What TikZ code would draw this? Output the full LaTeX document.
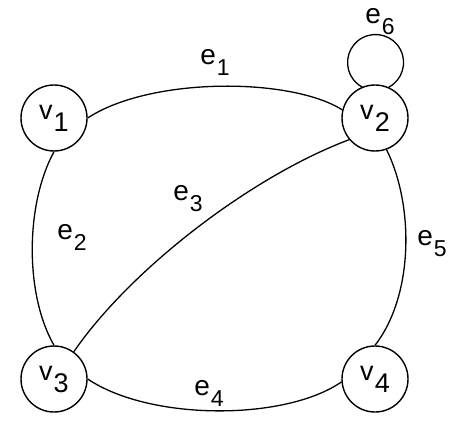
\documentclass[tikz,border=0pt]{standalone}
\usepackage{fontspec}
\setmainfont{Liberation Sans}
\newcommand\elab[2]{\fontsize{28}{28}\selectfont #1\kern1pt\raisebox{-11pt}{\fontsize{23}{23}\selectfont #2}}
\newcommand\vlab[2]{\fontsize{27}{27}\selectfont #1\kern1pt\raisebox{-12pt}{\fontsize{27}{27}\selectfont #2}}
\begin{document}
\begin{tikzpicture}[x=1pt,y=1pt,
  vert/.style={draw,circle,minimum size=66pt,inner sep=0pt,line width=1.4pt},
  edge/.style={line width=1.3pt},
  elabel/.style={inner sep=0pt}]
\useasboundingbox (0,0) rectangle (462,445);
\node[vert] (v1) at (54,327) {\vlab{v}{1}};
\node[vert] (v2) at (375,327) {\vlab{v}{2}};
\node[vert] (v3) at (54,66) {\vlab{v}{3}};
\node[vert] (v4) at (375,66) {\vlab{v}{4}};
% e1
\draw[edge] (v1.east) .. controls (150,368) and (290,368) .. (v2.166);
% e2
\draw[edge] (v1.south) .. controls (25,240) and (25,150) .. (v3.north);
% e5
\draw[edge] (v2.-70) .. controls (414,240) and (414,150) .. (v4.north);
% e4
\draw[edge] (v3.east) .. controls (150,24) and (285,24) .. (v4.185);
% e3
\draw[edge] (v2.-140) .. controls (250,268) and (130,175) .. (v3.54);
% e6 loop
\draw[edge] (v2.66.5) arc[start angle=-62,end angle=242,radius=28];
% labels
\node[elabel] (l1) at (215,383) {\elab{e}{1}};
\node[elabel] (l2) at (72,208) {\elab{e}{2}};
\node[elabel] (l3) at (188,246) {\elab{e}{3}};
\node[elabel] (l4) at (209,52) {\elab{e}{4}};
\node[elabel] (l5) at (432,201) {\elab{e}{5}};
\node[elabel] (l6) at (380,423) {\elab{e}{6}};
\end{tikzpicture}
\end{document}
